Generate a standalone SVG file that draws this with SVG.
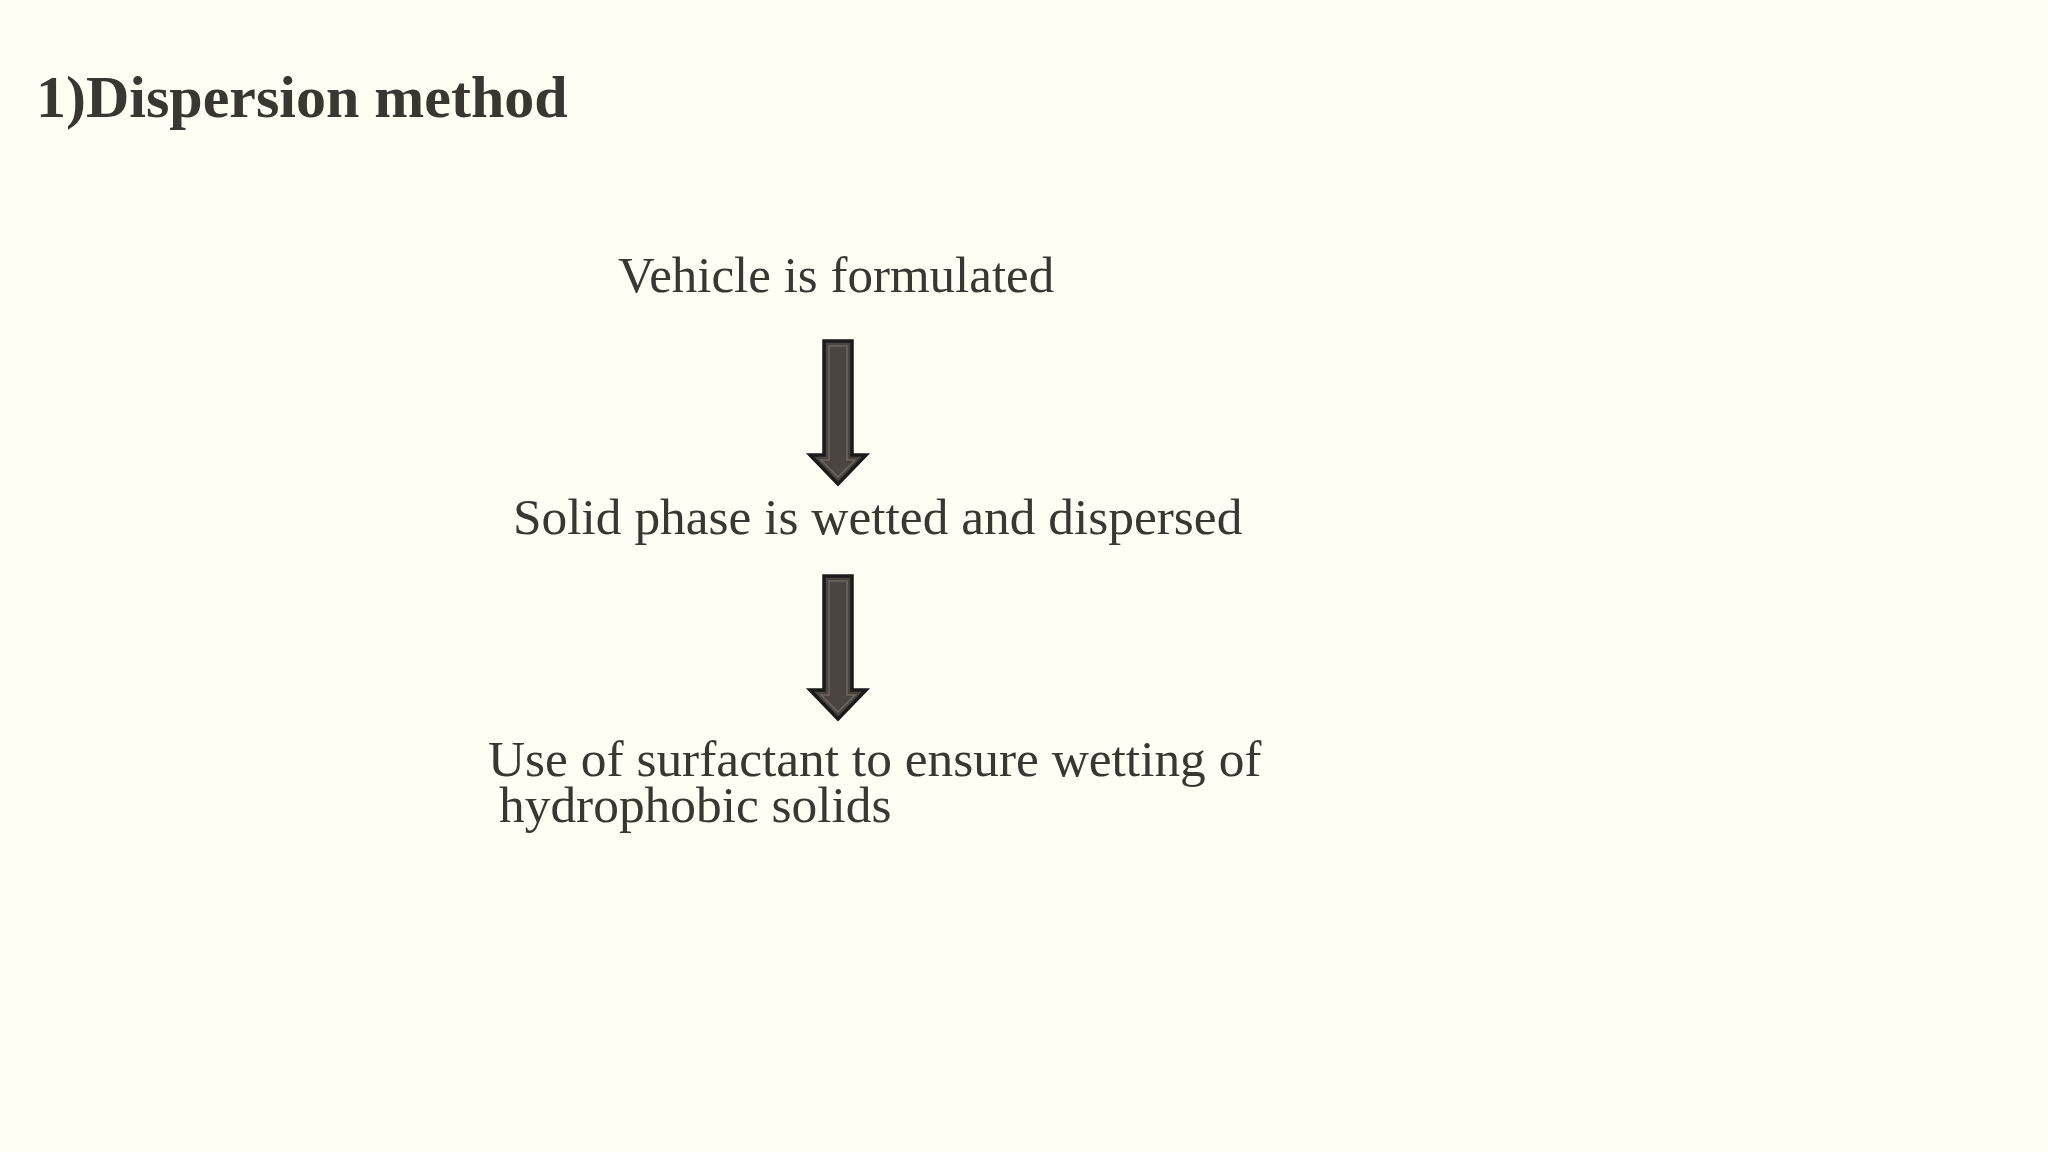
<svg xmlns="http://www.w3.org/2000/svg" xmlns:xlink="http://www.w3.org/1999/xlink" width="2048" height="1152" viewBox="0 0 2048 1152">
  <style>
    .title { font-family: "Liberation Serif", "Times New Roman", serif; font-weight: bold; font-size: 60px; fill: #3a3631; }
    .body { font-family: "Liberation Serif", "Times New Roman", serif; font-size: 51.4px; fill: #3a3631; }
    .arrow-outer { fill: #4a4541; stroke: #1d1b19; stroke-width: 3.5; stroke-linejoin: miter; }
    .arrow-inner { fill: none; stroke: #6d6761; stroke-width: 1.5; stroke-linejoin: miter; }
  </style>
  <defs>
    <g id="downArrow">
      <polygon class="arrow-outer" points="824,1 852,1 852,115 866,115 838,144 810,115 824,115"/>
      <polygon class="arrow-inner" points="829,6 847,6 847,120 855,120 838,137 821,120 829,120"/>
    </g>
  </defs>
  <rect width="2048" height="1152" fill="#fefef4"/>

  <g id="title">
    <text class="title" x="36" y="117">1)Dispersion method</text>
  </g>

  <g id="node-vehicle">
    <text class="body" x="618" y="292" style="font-size:51px">Vehicle is formulated</text>
  </g>

  <g id="node-solid">
    <text class="body" x="513" y="534">Solid phase is wetted and dispersed</text>
  </g>

  <g id="node-surfactant">
    <text class="body" x="488" y="776">Use of surfactant to ensure wetting of</text>
    <text class="body" x="499" y="822">hydrophobic solids</text>
  </g>

  <g id="connectors">
    <use xlink:href="#downArrow" href="#downArrow" transform="translate(0,340)"/>
    <use xlink:href="#downArrow" href="#downArrow" transform="translate(0,575)"/>
  </g>
</svg>
